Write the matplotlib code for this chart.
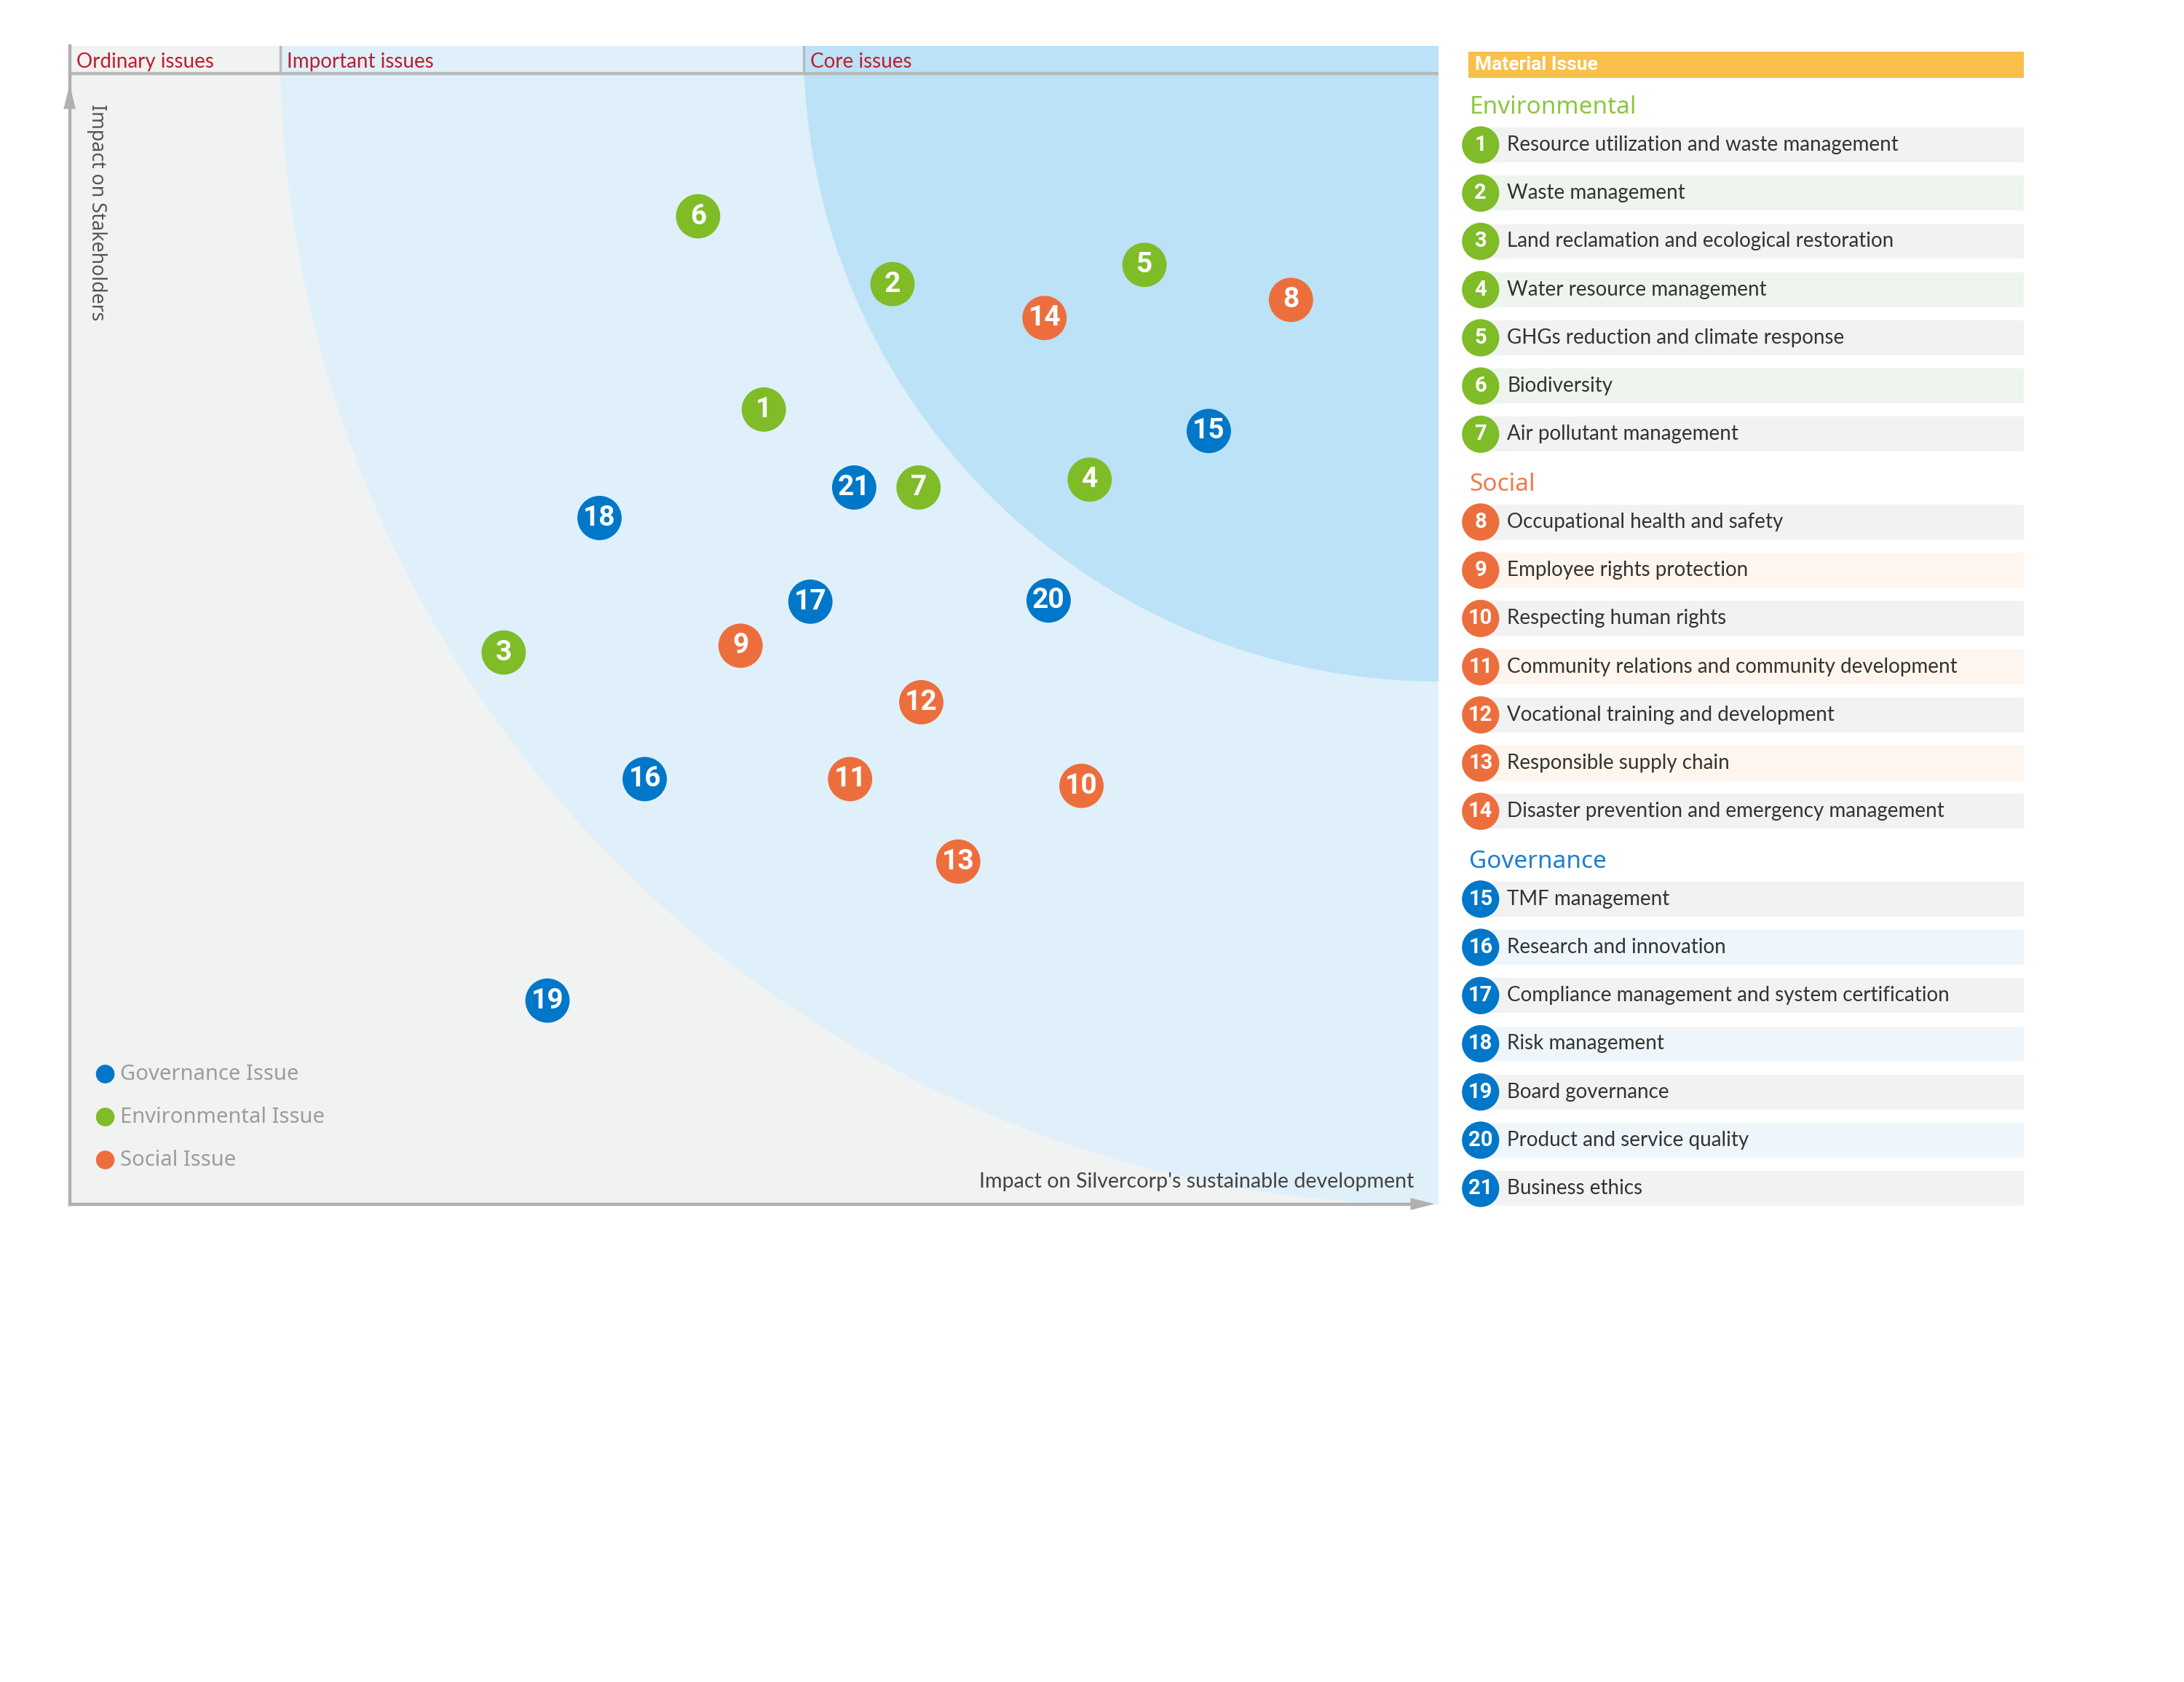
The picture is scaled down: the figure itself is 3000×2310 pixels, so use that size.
import matplotlib
matplotlib.use("Agg")
import matplotlib.pyplot as plt
from matplotlib.patches import Ellipse, Rectangle

# material issues: id, name, group and matrix position (0-10 scores)
issue_ids = list(range(1, 22))
issue_names = [
    "Resource utilization and waste management",
    "Waste management",
    "Land reclamation and ecological restoration",
    "Water resource management",
    "GHGs reduction and climate response",
    "Biodiversity",
    "Air pollutant management",
    "Occupational health and safety",
    "Employee rights protection",
    "Respecting human rights",
    "Community relations and community development",
    "Vocational training and development",
    "Responsible supply chain",
    "Disaster prevention and emergency management",
    "TMF management",
    "Research and innovation",
    "Compliance management and system certification",
    "Risk management",
    "Board governance",
    "Product and service quality",
    "Business ethics",
]
issue_groups = ["env"] * 7 + ["soc"] * 7 + ["gov"] * 7
x_sustain = [5.07, 6.01, 3.17, 7.45, 7.85, 4.59, 6.20, 8.92, 4.90, 7.39, 5.70,
             6.22, 6.49, 7.12, 8.32, 4.20, 5.41, 3.87, 3.49, 7.15, 5.73]
y_stake = [7.03, 8.14, 4.88, 6.41, 8.31, 8.74, 6.34, 8.00, 4.94, 3.70, 3.76,
           4.44, 3.03, 7.84, 6.84, 3.76, 5.33, 6.07, 1.80, 5.34, 6.34]

zone_names = ["Ordinary issues", "Important issues", "Core issues"]
zone_starts = [0.0, 1.536, 5.36]
zone_colors = ["#f1f2f2", "#dff0fa", "#bbe2f7"]

group_keys = ["gov", "env", "soc"]
group_colors = {"env": "#7fbc28", "soc": "#ed6e3d", "gov": "#0077c8"}
legend_labels = ["Governance Issue", "Environmental Issue", "Social Issue"]
section_titles = {"env": "Environmental", "soc": "Social", "gov": "Governance"}
section_colors = {"env": "#8cc63f", "soc": "#f07a4c", "gov": "#1b7fcf"}
row_colors = {"env": ["#f1f2f2", "#eef5ee"],
              "soc": ["#f1f2f2", "#fdf5ee"],
              "gov": ["#f1f2f2", "#eef6fc"]}

fig = plt.figure(figsize=(15, 11.55), dpi=200)
fig.patch.set_facecolor("white")
W, H = 1568, 1207


def box(x0, y0, x1, y1):
    return [x0 / W, 1 - y1 / H, (x1 - x0) / W, (y1 - y0) / H]


# ---------------- matrix ----------------
ax = fig.add_axes(box(50, 33, 1033, 864))
HDR = 10 * 20 / 811
top = 10 + HDR
ax.set_xlim(0, 10)
ax.set_ylim(0, top)
ax.axis("off")

pos = ax.get_position()
xppu = pos.width * fig.get_figwidth() / 10
yppu = pos.height * fig.get_figheight() / top
ratio = xppu / yppu

ax.add_patch(Rectangle((0, 0), 10, top, color=zone_colors[0], lw=0, zorder=0))
for start, col in zip(zone_starts[1:], zone_colors[1:]):
    r = 10 - start
    ax.add_patch(Ellipse((10, top), 2 * r, 2 * r * ratio, color=col, lw=0, zorder=1))

# header band
zone_ends = zone_starts[1:] + [10]
for name, s, e, col in zip(zone_names, zone_starts, zone_ends, zone_colors):
    ax.add_patch(Rectangle((s, 10), e - s, HDR, color=col, lw=0, zorder=2))
    ax.text(s + 0.05, 10 + HDR / 2 - 0.02, name, color="#be1e2d", fontsize=10,
            family="Lato", va="center", ha="left", zorder=3)
    if s > 0:
        ax.plot([s, s], [10, top], color="#b9b9b9", lw=1.2, zorder=3)
ax.plot([0, 10], [10, 10], color="#b9b9b9", lw=1.6, zorder=3)

# axes arrows
ax.plot([0, 0], [0, top], color="#b0b0b0", lw=1.6, zorder=3, clip_on=False)
ax.plot([0, 9.85], [0, 0], color="#b0b0b0", lw=1.6, zorder=3, clip_on=False)
ax.annotate("", xy=(0, 9.94), xytext=(0, 9.6),
            arrowprops=dict(arrowstyle="-|>,head_length=1.2,head_width=0.3",
                            color="#b0b0b0", lw=0, mutation_scale=10), zorder=4)
ax.annotate("", xy=(10, 0), xytext=(9.7, 0), annotation_clip=False,
            arrowprops=dict(arrowstyle="-|>,head_length=1.2,head_width=0.3",
                            color="#b0b0b0", lw=0, mutation_scale=10), zorder=4)

ax.text(0.2, 9.73, "Impact on Stakeholders", rotation=270, family="Noto Sans",
        fontsize=9.6, color="#555555", ha="center", va="top", zorder=4)
ax.text(9.82, 0.2, "Impact on Silvercorp's sustainable development", family="Lato",
        fontsize=10.3, color="#444444", ha="right", va="center", zorder=4)

# issue bubbles
for i, xv, yv, g in zip(issue_ids, x_sustain, y_stake, issue_groups):
    ax.scatter(xv, yv, s=480, color=group_colors[g], edgecolors="none", zorder=5)
    ax.text(xv, yv, str(i), color="white", fontsize=14, fontweight="bold",
            family="Roboto", ha="center", va="center", zorder=6)

# legend
for k, (g, lab) in enumerate(zip(group_keys, legend_labels)):
    yy = 1.15 - k * 0.38
    ax.scatter(0.26, yy, s=85, color=group_colors[g], edgecolors="none", zorder=5)
    ax.text(0.37, yy, lab, color="#9c9c9c", fontsize=10.5, family="Noto Sans",
            fontweight="medium", va="center", ha="left", zorder=5)

# ---------------- issue list ----------------
rp = fig.add_axes(box(1040, 30, 1470, 880))
rp.set_xlim(1040, 1470)
rp.set_ylim(880, 30)
rp.axis("off")

rp.add_patch(Rectangle((1054, 37), 399, 19, color="#f9bf4b", lw=0))
rp.text(1059, 46.5, "Material Issue", color="white", fontsize=9.5,
        fontweight="bold", family="Roboto", va="center", ha="left")

y = 76
for key in ["env", "soc", "gov"]:
    rp.text(1055, y + 1, section_titles[key], color=section_colors[key], fontsize=12,
            family="Noto Sans", fontweight="medium", va="center", ha="left")
    y += 28
    rows = [(i, n) for i, n, g in zip(issue_ids, issue_names, issue_groups) if g == key]
    for k, (i, name) in enumerate(rows):
        rp.add_patch(Rectangle((1063, y - 12.5), 390, 25, color=row_colors[key][k % 2], lw=0))
        rp.scatter(1063, y, s=340, color=group_colors[key], edgecolors="none", zorder=3)
        rp.text(1063, y, str(i), color="white", fontsize=10.5, fontweight="bold",
                family="Roboto", ha="center", va="center", zorder=4)
        rp.text(1082, y, name, color="#333333", fontsize=10, family="Lato",
                ha="left", va="center", zorder=4)
        y += 34.6
    y += 0.4

fig.savefig("out.png", dpi=200, facecolor="white")
